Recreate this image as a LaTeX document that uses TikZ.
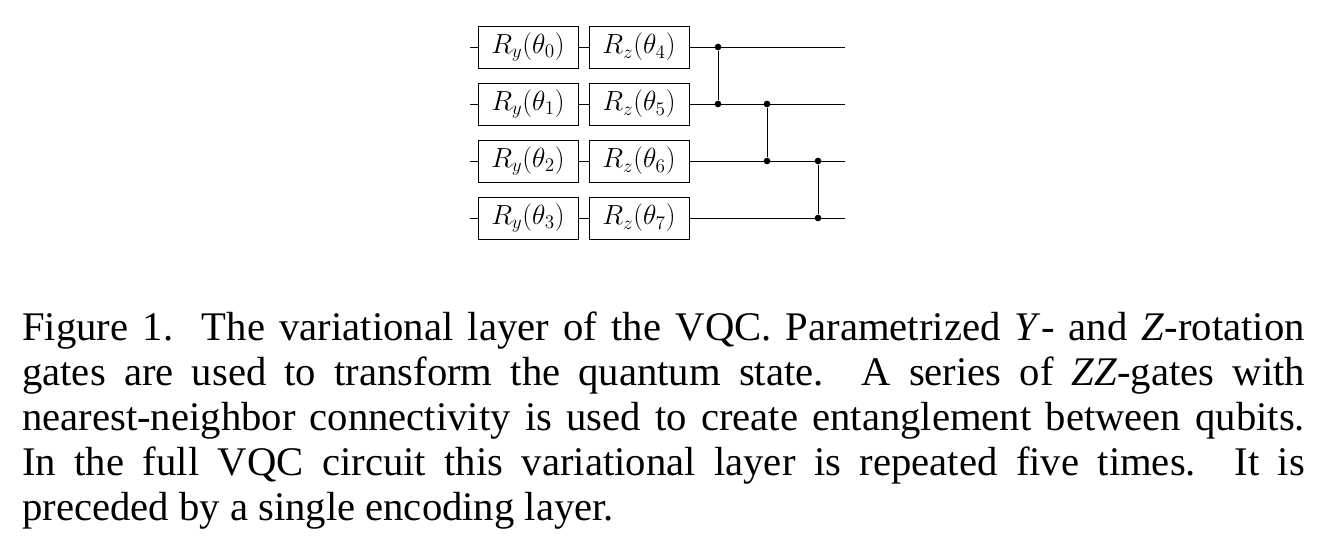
\documentclass[tikz,border=0pt]{standalone}
\usepackage{fontspec}
\usepackage{amsmath}
\newfontfamily\capfont{Liberation Serif}
\usetikzlibrary{positioning}

\begin{document}
\begin{tikzpicture}[x=0.75pt,y=-0.75pt,
  gate/.style={draw,fill=white,inner sep=0pt,minimum width=75pt,
    minimum height=31.5pt,font=\fontsize{22.5}{24}\selectfont},
  ctrl/.style={circle,fill,inner sep=0pt,minimum size=5pt},
  capline/.style={anchor=base west,inner sep=0pt,
    font=\capfont\fontsize{30.5}{36}\selectfont}]
  \useasboundingbox (0,0) rectangle (1330,552);
  % wires and rotation gates
  \foreach \q in {0,1,2,3}{
    \pgfmathsetmacro{\yy}{47+57*\q}
    \pgfmathtruncatemacro{\zz}{\q+4}
    \coordinate (in\q) at (470,\yy);
    \coordinate (out\q) at (845,\yy);
    \draw (in\q) -- (out\q);
    \node[gate] (ry\q) at (528,\yy) {$R_y(\theta_{\q})$};
    \node[gate] (rz\q) at (639,\yy) {$R_z(\theta_{\zz})$};
  }
  % ZZ gates
  \foreach \a/\b/\x in {0/1/718,1/2/767,2/3/818}{
    \node[ctrl] (c\a) at (\x,47+57*\a) {};
    \node[ctrl] (t\a) at (\x,47+57*\b) {};
    \draw (c\a) -- (t\a);
  }
  % caption
  \node[capline] (l1) at (22,340) {\hbox to 962pt{Figure 1.\ \ The variational layer of the VQC. Parametrized \textit{Y}- and \textit{Z}-rotation}};
  \node[capline] (l2) at (22,385) {\hbox to 962pt{gates are used to transform the quantum state. A series of \textit{ZZ}-gates with}};
  \node[capline] (l3) at (22,430) {\hbox to 962pt{nearest-neighbor connectivity is used to create entanglement between qubits.}};
  \node[capline] (l4) at (22,475) {\hbox to 962pt{In the full VQC circuit this variational layer is repeated five times. It is}};
  \node[capline] (l5) at (22,520) {preceded by a single encoding layer.};
\end{tikzpicture}
\end{document}
